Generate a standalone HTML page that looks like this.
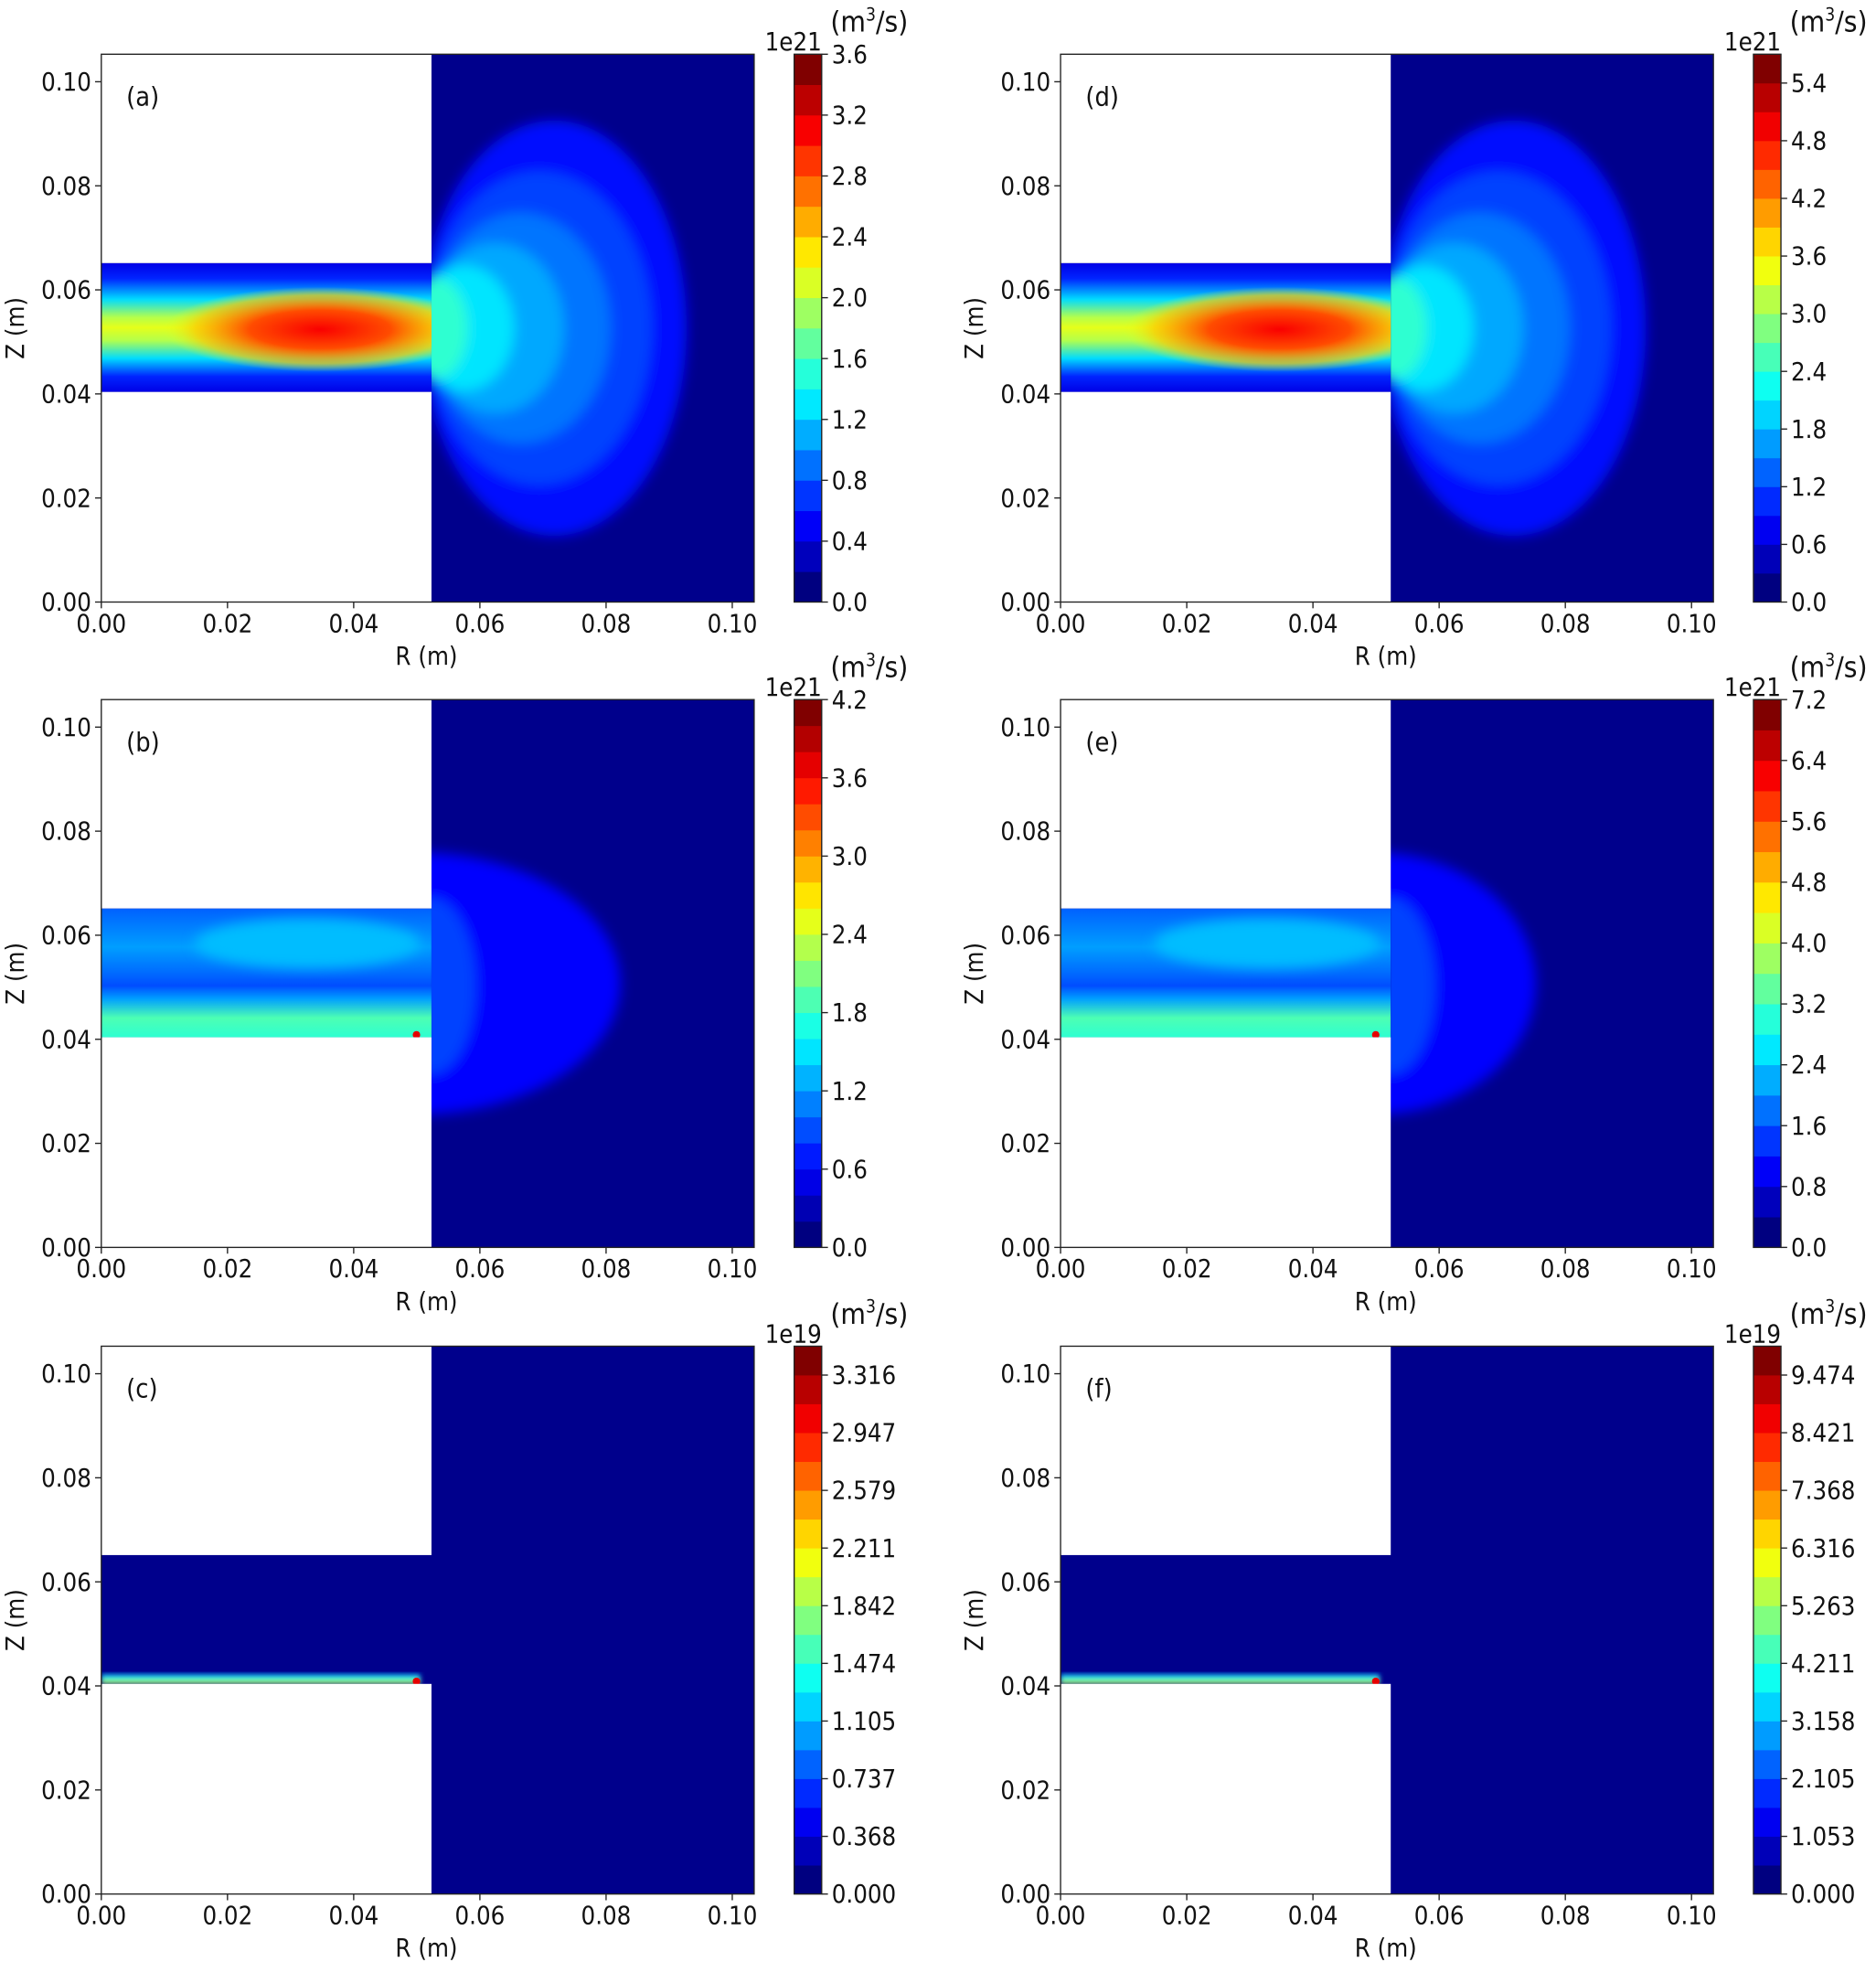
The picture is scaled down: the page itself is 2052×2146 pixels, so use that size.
<!DOCTYPE html>
<html><head><meta charset="utf-8">
<style>
html,body{margin:0;padding:0;background:#fff;}
svg{display:block;}
text{font-family:"DejaVu Sans Condensed","DejaVu Sans","Liberation Sans",sans-serif;fill:#111;}
</style></head>
<body>
<svg id="s" width="2052" height="2146" viewBox="0 0 1500 1568" xmlns="http://www.w3.org/2000/svg">
<defs>
<filter id="bl" x="-20%" y="-20%" width="140%" height="140%"><feGaussianBlur stdDeviation="5"/></filter>
<filter id="bl2" x="-20%" y="-20%" width="140%" height="140%"><feGaussianBlur stdDeviation="2"/></filter>
</defs>
</svg>
<script>
function jet(t){function c(v){return Math.max(0,Math.min(1,v));}
var r=c(1.5-Math.abs(4*t-3)),g=c(1.5-Math.abs(4*t-2)),b=c(1.5-Math.abs(4*t-1));
return 'rgb('+Math.round(r*255)+','+Math.round(g*255)+','+Math.round(b*255)+')';}
var NAVY='#00008c';
var s=document.getElementById('s');var defs=s.querySelector('defs');var out='';var dout='';
var panels=[
{c:0,r:0,lab:'(a)',e:'1e21',t:['0.0','0.4','0.8','1.2','1.6','2.0','2.4','2.8','3.2','3.6'],tv:0.4,max:3.6,n:18,type:'A'},
{c:1,r:0,lab:'(d)',e:'1e21',t:['0.0','0.6','1.2','1.8','2.4','3.0','3.6','4.2','4.8','5.4'],tv:0.6,max:5.7,n:19,type:'A'},
{c:0,r:1,lab:'(b)',e:'1e21',t:['0.0','0.6','1.2','1.8','2.4','3.0','3.6','4.2'],tv:0.6,max:4.2,n:21,type:'B'},
{c:1,r:1,lab:'(e)',e:'1e21',t:['0.0','0.8','1.6','2.4','3.2','4.0','4.8','5.6','6.4','7.2'],tv:0.8,max:7.2,n:18,type:'B'},
{c:0,r:2,lab:'(c)',e:'1e19',t:['0.000','0.368','0.737','1.105','1.474','1.842','2.211','2.579','2.947','3.316'],tv:0.3684,max:3.50,n:19,type:'C'},
{c:1,r:2,lab:'(f)',e:'1e19',t:['0.000','1.053','2.105','3.158','4.211','5.263','6.316','7.368','8.421','9.474'],tv:1.0526,max:10.0,n:19,type:'C'}];
var rowY=[43,559,1076],colX=[81,848],W=522,H=438;
panels.forEach(function(p,i){
var x0=colX[p.c],y0=rowY[p.r];
var cid='cp'+i,chid='ch'+i,rid='rr'+i;
dout+='<clipPath id="'+cid+'"><rect x="'+x0+'" y="'+y0+'" width="'+W+'" height="'+H+'"/></clipPath>';
dout+='<clipPath id="'+rid+'"><rect x="'+(x0+264)+'" y="'+y0+'" width="'+(W-264)+'" height="'+H+'"/></clipPath>';
dout+='<clipPath id="'+chid+'"><rect x="'+x0+'" y="'+(y0+167)+'" width="264" height="103"/></clipPath>';
var g='<g clip-path="url(#'+cid+')"><rect x="'+x0+'" y="'+y0+'" width="'+W+'" height="'+H+'" fill="'+NAVY+'"/>';
var cy=y0+219;
if(p.type=='A'){
 g+='<g clip-path="url(#'+rid+')" filter="url(#bl)">';
 g+='<ellipse cx="'+(x0+362)+'" cy="'+cy+'" rx="106" ry="166" fill="'+jet(0.14)+'"/>';
 g+='<ellipse cx="'+(x0+350)+'" cy="'+cy+'" rx="90" ry="125" fill="'+jet(0.19)+'"/>';
 g+='<ellipse cx="'+(x0+335)+'" cy="'+cy+'" rx="72" ry="92" fill="'+jet(0.24)+'"/>';
 g+='<ellipse cx="'+(x0+315)+'" cy="'+cy+'" rx="55" ry="68" fill="'+jet(0.29)+'"/>';
 g+='<ellipse cx="'+(x0+290)+'" cy="'+cy+'" rx="40" ry="50" fill="'+jet(0.35)+'"/>';
 g+='<ellipse cx="'+(x0+268)+'" cy="'+cy+'" rx="25" ry="40" fill="'+jet(0.42)+'"/>';
 g+='</g>';
 var gid='lg'+i;
 dout+='<linearGradient id="'+gid+'" x1="0" y1="0" x2="0" y2="1">'+
 [[0,0.1],[0.12,0.16],[0.28,0.34],[0.42,0.55],[0.5,0.6],[0.6,0.55],[0.74,0.34],[0.88,0.16],[1,0.1]].map(function(a){return '<stop offset="'+a[0]+'" stop-color="'+jet(a[1])+'"/>';}).join('')+'</linearGradient>';
 var rg='rg'+i;
 dout+='<radialGradient id="'+rg+'"><stop offset="0" stop-color="'+jet(0.88)+'"/><stop offset="0.45" stop-color="'+jet(0.8)+'"/><stop offset="0.8" stop-color="'+jet(0.68)+'" stop-opacity="0.7"/><stop offset="1" stop-color="'+jet(0.6)+'" stop-opacity="0"/></radialGradient>';
 g+='<g clip-path="url(#'+chid+')"><rect x="'+x0+'" y="'+(y0+167)+'" width="264" height="103" fill="url(#'+gid+')"/>';
 g+='<ellipse cx="'+(x0+175)+'" cy="'+(cy+1)+'" rx="125" ry="34" fill="url(#'+rg+')"/></g>';
}else if(p.type=='B'){
 var ext=p.c==0?165:130;
 g+='<g clip-path="url(#'+rid+')" filter="url(#bl)">';
 g+='<ellipse cx="'+(x0+250)+'" cy="'+(cy+8)+'" rx="'+ext+'" ry="105" fill="'+jet(0.13)+'"/>';
 g+='<ellipse cx="'+(x0+264)+'" cy="'+(cy+10)+'" rx="35" ry="70" fill="'+jet(0.19)+'"/>';
 g+='</g>';
 var gid='lg'+i;
 dout+='<linearGradient id="'+gid+'" x1="0" y1="0" x2="0" y2="1">'+
 [[0,0.22],[0.3,0.28],[0.5,0.23],[0.6,0.2],[0.7,0.28],[0.85,0.45],[1,0.42]].map(function(a){return '<stop offset="'+a[0]+'" stop-color="'+jet(a[1])+'"/>';}).join('')+'</linearGradient>';
 g+='<g clip-path="url(#'+chid+')"><rect x="'+x0+'" y="'+(y0+167)+'" width="264" height="103" fill="url(#'+gid+')"/>';
 g+='<ellipse cx="'+(x0+165)+'" cy="'+(y0+195)+'" rx="90" ry="20" fill="'+jet(0.31)+'" filter="url(#bl)"/>';
 g+='<circle cx="'+(x0+252)+'" cy="'+(y0+268)+'" r="3" fill="'+jet(0.9)+'"/></g>';
}else{
 var gid='lg'+i;
 dout+='<linearGradient id="'+gid+'" x1="0" y1="0" x2="0" y2="1"><stop offset="0" stop-color="'+jet(0.25)+'"/><stop offset="0.5" stop-color="'+jet(0.42)+'"/><stop offset="1" stop-color="'+jet(0.6)+'"/></linearGradient>';
 g+='<rect x="'+x0+'" y="'+(y0+262)+'" width="255" height="8" fill="url(#'+gid+')" filter="url(#bl2)"/>';
 g+='<circle cx="'+(x0+252)+'" cy="'+(y0+268)+'" r="3" fill="'+jet(0.9)+'"/>';
}
g+='<rect x="'+x0+'" y="'+y0+'" width="264" height="167" fill="#fff"/>';
g+='<rect x="'+x0+'" y="'+(y0+270)+'" width="264" height="168" fill="#fff"/>';
g+='</g>';
g+='<rect x="'+x0+'" y="'+y0+'" width="'+W+'" height="'+H+'" fill="none" stroke="#222" stroke-width="1"/>';
for(var k=0;k<=5;k++){var yy=y0+H-k*83.2;var lbl=(k*0.02).toFixed(2);
 g+='<line x1="'+(x0-5)+'" y1="'+yy+'" x2="'+x0+'" y2="'+yy+'" stroke="#222"/>';
 g+='<text x="'+(x0-8)+'" y="'+(yy+7)+'" font-size="20" text-anchor="end">'+lbl+'</text>';}
for(var k=0;k<=5;k++){var xx=x0+k*100.9;var lbl=(k*0.02).toFixed(2);
 g+='<line x1="'+xx+'" y1="'+(y0+H)+'" x2="'+xx+'" y2="'+(y0+H+5)+'" stroke="#222"/>';
 g+='<text x="'+xx+'" y="'+(y0+H+24)+'" font-size="20" text-anchor="middle">'+lbl+'</text>';}
g+='<text x="'+(x0+260)+'" y="'+(y0+H+50)+'" font-size="20" text-anchor="middle">R (m)</text>';
g+='<text transform="translate('+(x0-62)+','+(y0+219)+') rotate(-90)" font-size="20" text-anchor="middle">Z (m)</text>';
g+='<text x="'+(x0+20)+'" y="'+(y0+41)+'" font-size="21">'+p.lab+'</text>';
var bx=x0+554,bw=22;
var bh=H/p.n;
for(var k=0;k<p.n;k++){g+='<rect x="'+bx+'" y="'+(y0+H-(k+1)*bh-0.3)+'" width="'+bw+'" height="'+(bh+0.6)+'" fill="'+jet(k/(p.n-1))+'"/>';}
g+='<rect x="'+bx+'" y="'+y0+'" width="'+bw+'" height="'+H+'" fill="none" stroke="#222" stroke-width="1"/>';
p.t.forEach(function(l,k){var yy=y0+H-k*p.tv/p.max*H;
 g+='<line x1="'+(bx+bw)+'" y1="'+yy+'" x2="'+(bx+bw+5)+'" y2="'+yy+'" stroke="#222"/>';
 g+='<text x="'+(bx+bw+8)+'" y="'+(yy+7)+'" font-size="20">'+l+'</text>';});
g+='<text x="'+(bx+bw)+'" y="'+(y0-3)+'" font-size="20" text-anchor="end">'+p.e+'</text>';
g+='<text x="'+(bx+29)+'" y="'+(y0-18)+'" font-size="23">(m<tspan font-size="14" dy="-9">3</tspan><tspan dy="9">/s)</tspan></text>';
out+=g;
});
defs.innerHTML+=dout;
s.insertAdjacentHTML('beforeend',out);
</script>
</body></html>
